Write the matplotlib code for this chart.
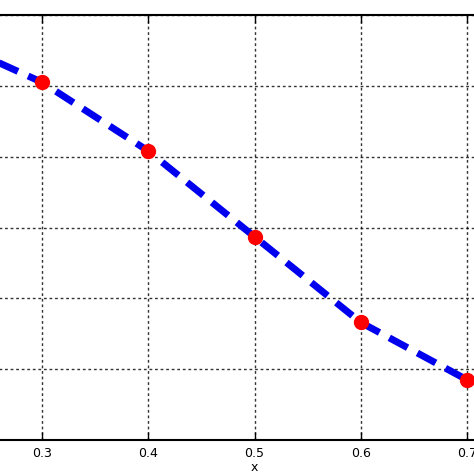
import matplotlib
matplotlib.use("Agg")
import matplotlib.pyplot as plt

x_vals = [0.2, 0.3, 0.4, 0.5, 0.6, 0.7]
y_vals = [5.73, 5.05, 4.08, 2.87, 1.66, 0.85]
x_ticks = [0.2, 0.3, 0.4, 0.5, 0.6, 0.7]
x_tick_labels = ["0.2", "0.3", "0.4", "0.5", "0.6", "0.7"]
y_ticks = [0, 1, 2, 3, 4, 5, 6]

fig = plt.figure(figsize=(4.74, 4.74), dpi=100)
# axes extends beyond the visible (cropped) area
ax = fig.add_axes([-64.25 / 474, 34 / 474, 637.5 / 474, 425 / 474])
ax.plot(x_vals, y_vals, color="#0000ee", linestyle=(0, (3, 1.6)), linewidth=5,
        zorder=3)
ax.plot(x_vals, y_vals, linestyle="none", marker="o", markersize=10,
        markerfacecolor="#ff0000", markeredgecolor="#ff0000", zorder=4)
ax.set_xlim(0.2, 0.8)
ax.set_ylim(0, 6)
ax.set_xticks(x_ticks)
ax.set_xticklabels(x_tick_labels, fontsize=9)
ax.set_yticks(y_ticks)
ax.tick_params(direction="in", length=6, width=1, top=True, right=True,
               pad=5, colors="black")
ax.grid(True, color="black", linestyle=(0, (2, 2)), linewidth=1, alpha=0.8)
for s in ax.spines.values():
    s.set_linewidth(1.5)
ax.set_xlabel("x", fontsize=9, labelpad=1)
fig.savefig("out.png", dpi=100)
